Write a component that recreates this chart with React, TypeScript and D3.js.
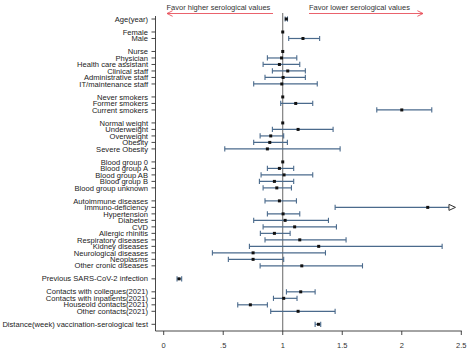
import React from "react";
import * as d3 from "d3";

const labels: string[] = [
  "Age(year)", "",
  "Female", "Male", "",
  "Nurse", "Physician", "Health care assistant", "Clinical staff", "Administrative staff", "IT/maintenance staff", "",
  "Never smokers", "Former smokers", "Current smokers", "",
  "Normal weight", "Underweight", "Overweight", "Obesity", "Severe Obesity", "",
  "Blood group 0", "Blood group A", "Blood group AB", "Blood group B", "Blood group unknown", "",
  "Autoimmune diseases", "Immuno-deficiency", "Hypertension", "Diabetes", "CVD", "Allergic rhinitis",
  "Respiratory diseases", "Kidney diseases", "Neurological diseases", "Neoplasms", "Other cronic diseases", "",
  "Previous SARS-CoV-2 infection", "",
  "Contacts with collegues(2021)", "Contacts with inpatients(2021)", "Houseold contacts(2021)", "Other contacts(2021)", "",
  "Distance(week) vaccination-serological test",
];

const estimates: (number | null)[] = [
  1.03, null,
  1.0, 1.17, null,
  1.0, 0.99, 0.972, 1.042, 1.003, 0.992, null,
  1.0, 1.109, 2.0, null,
  1.0, 1.129, 0.899, 0.891, 0.871, null,
  1.0, 0.972, 1.011, 0.93, 0.95, null,
  0.972, 2.218, 1.003, 1.02, 1.1, 0.93, 1.143, 1.302, 0.751, 0.751, 1.16, null,
  0.129, null,
  1.151, 1.008, 0.728, 1.129, null,
  1.3,
];

const lower: (number | null)[] = [
  1.02, null,
  null, 1.05, null,
  null, 0.871, 0.835, 0.913, 0.851, 0.756, null,
  null, 0.983, 1.79, null,
  null, 0.913, 0.81, 0.756, 0.513, null,
  null, 0.871, 0.818, 0.804, 0.835, null,
  0.851, 1.44, 0.871, 0.756, 0.835, 0.812, 0.851, 0.72, 0.409, 0.543, 0.81, null,
  0.112, null,
  1.031, 0.922, 0.622, 0.899, null,
  1.272,
];

const upper: (number | null)[] = [
  1.04, null,
  null, 1.31, null,
  null, 1.118, 1.143, 1.19, 1.19, 1.29, null,
  null, 1.252, 2.252, null,
  null, 1.423, 1.008, 1.039, 1.482, null,
  null, 1.092, 1.252, 1.092, 1.073, null,
  1.115, 2.9, 1.143, 1.384, 1.451, 1.062, 1.532, 2.339, 1.359, 1.008, 1.67, null,
  0.151, null,
  1.272, 1.12, 0.871, 1.44, null,
  1.319,
];

const xTicks = [0, 0.5, 1, 1.5, 2, 2.5];
const xTickLabels = ["0", ".5", "1", "1.5", "2", "2.5"];
const headerLeft = "Favor higher serological values";
const headerRight = "Favor lower serological values";

const FONT = "'Liberation Sans', Arial, sans-serif";
const CI_COLOR = "#4a6a8c";
const RED = "#e8505b";

export default function App() {
  const W = 474, H = 351;
  const x = d3.scaleLinear().domain([0, 2.5]).range([163.7, 461.3]);
  const y = d3.scaleLinear().domain([0, labels.length - 1]).range([19, 324.3]);
  const spineX = 155.5;
  const axisY = 331;
  const topY = 13;
  const xClipMax = 2.43;
  const cap = 2.6;

  return (
    <svg width={W} height={H} style={{ position: "absolute", left: 0, top: 0, background: "#fff" }}
      fontFamily={FONT}>
      <rect width={W} height={H} fill="#fff" />
      {/* headers */}
      <text x={166.5} y={10} fontSize={7.5} fill="#333">{headerLeft}</text>
      <text x={309} y={10} fontSize={7.5} fill="#333">{headerRight}</text>
      <defs>
        <marker id="arrRed" viewBox="0 0 10 10" refX="9" refY="5" markerWidth="7" markerHeight="7"
          orient="auto-start-reverse" markerUnits="userSpaceOnUse">
          <path d="M1,1 L9,5 L1,9" fill="none" stroke={RED} strokeWidth={1.3} />
        </marker>
      </defs>
      <line x1={273} x2={167} y1={13.5} y2={13.5} stroke={RED} strokeWidth={0.9} markerEnd="url(#arrRed)" />
      <line x1={309} x2={423} y1={13.5} y2={13.5} stroke={RED} strokeWidth={0.9} markerEnd="url(#arrRed)" />

      {/* reference line at 1 */}
      <line x1={x(1)} x2={x(1)} y1={topY} y2={axisY} stroke="#555" strokeWidth={0.9} />

      {/* y spine */}
      <line x1={spineX} x2={spineX} y1={16} y2={axisY} stroke="#333" strokeWidth={0.9} />
      {/* x axis */}
      <line x1={spineX} x2={x(2.5) + 0.5} y1={axisY} y2={axisY} stroke="#333" strokeWidth={0.9} />
      {xTicks.map((t, i) => (
        <g key={"xt" + i}>
          <line x1={x(t)} x2={x(t)} y1={axisY} y2={axisY + 4} stroke="#333" strokeWidth={0.9} />
          <text x={x(t)} y={347.5} fontSize={7.5} textAnchor="middle" fill="#333">{xTickLabels[i]}</text>
        </g>
      ))}

      {/* labels and ticks */}
      {labels.map((l, i) => l === "" ? null : (
        <g key={"yl" + i}>
          <line x1={spineX - 4} x2={spineX} y1={y(i)} y2={y(i)} stroke="#333" strokeWidth={0.9} />
          <text x={148} y={y(i)} dy="0.35em" fontSize={7.6} textAnchor="end" fill="#222">{l}</text>
        </g>
      ))}

      {/* CIs */}
      {labels.map((l, i) => {
        const lo = lower[i], hi = upper[i];
        if (lo == null || hi == null) return null;
        const yy = y(i);
        const clipped = hi > xClipMax;
        const hx = clipped ? x(xClipMax) : x(hi);
        return (
          <g key={"ci" + i}>
            <line x1={x(lo)} x2={hx} y1={yy} y2={yy} stroke={CI_COLOR} strokeWidth={1.2} />
            <line x1={x(lo)} x2={x(lo)} y1={yy - cap} y2={yy + cap} stroke={CI_COLOR} strokeWidth={1.1} />
            {clipped ? (
              <path d={`M${hx - 4},${yy - 3} L${hx + 2.5},${yy} L${hx - 4},${yy + 3} Z`} fill="#fff"
                stroke="#333" strokeWidth={1} />
            ) : (
              <line x1={hx} x2={hx} y1={yy - cap} y2={yy + cap} stroke={CI_COLOR} strokeWidth={1.1} />
            )}
          </g>
        );
      })}

      {/* points */}
      {estimates.map((e, i) => e == null ? null : (
        <rect key={"pt" + i} x={x(e) - 1.5} y={y(i) - 1.5} width={3} height={3} fill="#111" />
      ))}
    </svg>
  );
}
